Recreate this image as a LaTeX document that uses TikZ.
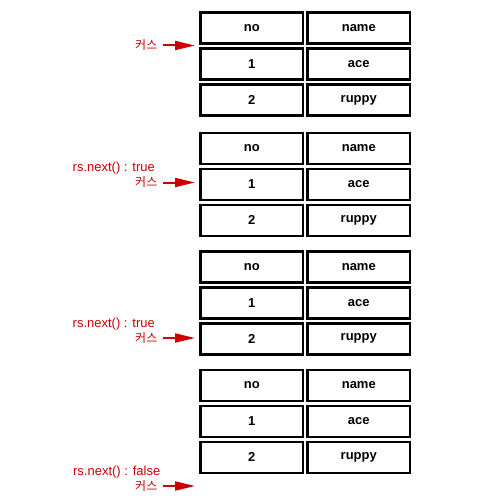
\documentclass[tikz,border=0pt]{standalone}
\usepackage{fontspec}
\setmainfont{Liberation Sans}
\newfontfamily\kr{Noto Sans CJK KR}
\usetikzlibrary{arrows.meta}
\definecolor{cred}{HTML}{CC0000}
\tikzset{
  cell/.style={draw=black, line width=2.5pt, minimum width=102.5pt, minimum height=31pt,
    inner sep=0pt, font=\fontsize{13}{15}\selectfont\bfseries, anchor=north west},
  lbl/.style={text=cred, font=\fontsize{13}{15}\selectfont, anchor=east, inner sep=0pt},
  cur/.style={text=cred, font=\kr\fontsize{12}{14}\selectfont, anchor=east, inner sep=0pt},
  ptr/.style={draw=cred, line width=2pt, -{Triangle[length=20pt,width=9pt]}}
}
\begin{document}
\begin{tikzpicture}[x=1pt,y=-1pt]
\useasboundingbox (0,0) rectangle (500,500);
\foreach \t/\top in {1/11.3, 2/131.5, 3/250, 4/368.5}{
  \node[cell] (h\t a) at (199.25,\top) {no};
  \node[cell] (h\t b) at (306.3,\top) {name};
  \node[cell] (r\t a) at (199.25,\top+36) {1};
  \node[cell] (r\t b) at (306.3,\top+36) {ace};
  \node[cell] (s\t a) at (199.25,\top+72) {2};
  \node[cell] (s\t b) at (306.3,\top+72) {ruppy};
}
% cursor 1
\node[cur] (c1) at (157.5,45.5) {커스};
\coordinate (f1) at (163,45.5);
\coordinate (t1) at (195,45.5);
\draw[ptr] (f1) -- (t1);
% cursor 2
\node[lbl] (n2) at (155,168.5) {rs.next() : true};
\node[cur] (c2) at (157.5,182.5) {커스};
\coordinate (f2) at (163,182.5);
\coordinate (t2) at (195,182.5);
\draw[ptr] (f2) -- (t2);
% cursor 3
\node[lbl] (n3) at (155,324) {rs.next() : true};
\node[cur] (c3) at (157.5,338) {커스};
\coordinate (f3) at (163,338);
\coordinate (t3) at (195,338);
\draw[ptr] (f3) -- (t3);
% cursor 4
\node[lbl] (n4) at (160.5,472.5) {rs.next() : false};
\node[cur] (c4) at (157.5,486) {커스};
\coordinate (f4) at (163,486);
\coordinate (t4) at (195,486);
\draw[ptr] (f4) -- (t4);
\end{tikzpicture}
\end{document}
